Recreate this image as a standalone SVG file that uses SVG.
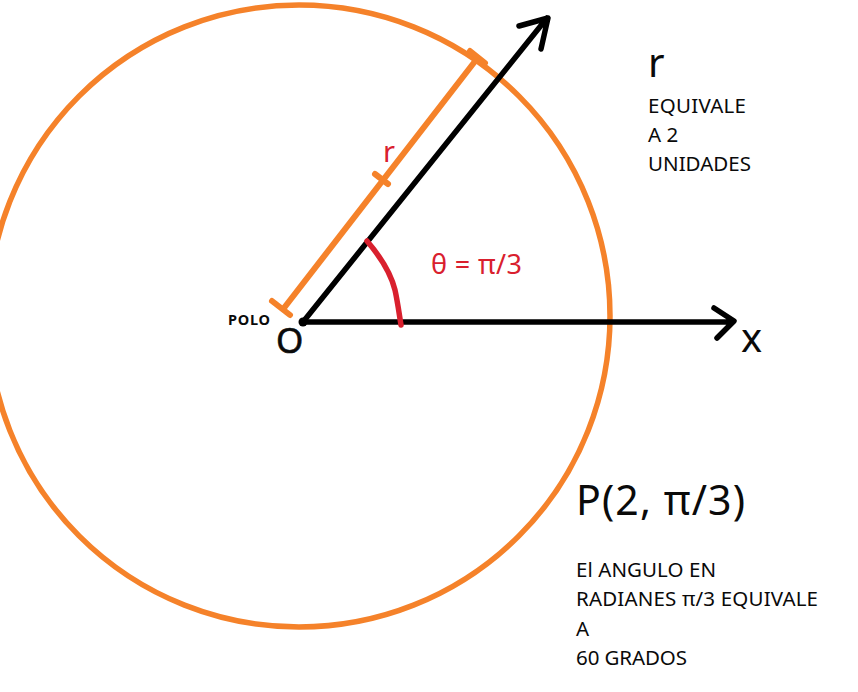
<svg xmlns="http://www.w3.org/2000/svg" width="858" height="692" viewBox="0 0 858 692">
<style>
.t{font-family:"Noto Sans","Open Sans","Liberation Sans",sans-serif;fill:#0a0a0a}
.s{font-size:20.5px}
.red{fill:#d9202e}
.o{fill:none;stroke:#f5822a;stroke-linecap:round}
.k{fill:none;stroke:#000;stroke-width:5.5;stroke-linecap:round;stroke-linejoin:round}
</style>
<rect width="858" height="692" fill="#fff"/>
<g id="connectors">
<circle id="circle" class="o" cx="299" cy="316" r="311" stroke-width="5.5"/>
<path id="axis-x" class="k" d="M303 322H733M714 308L734 321L717 338"/>
<path id="axis-r" class="k" d="M303 322L547 18M519 26L548 18L541 49"/>
<path id="radius" class="o" stroke-width="6" d="M284 308L476 60M272 301L290 315M470 51L485 63M375 174L388 184"/>
<path id="angle" fill="none" stroke="#d9202e" stroke-width="5.5" stroke-linecap="round" d="M367 241C385 262 392 278 395 290C398 304 399 313 401 325"/>
</g>
<g id="polo"><circle cx="303" cy="322" r="4.5"/><text class="t" x="228" y="325" font-size="14.5" font-weight="700" textLength="42">POLO</text><text class="t" x="276" y="353" font-size="35" stroke="#0a0a0a" stroke-width="0.6">O</text></g>
<g id="label-x"><text class="t" x="741" y="352" font-size="40">x</text></g>
<g id="label-r-red"><text class="t red" x="383" y="162" font-size="29">r</text></g>
<g id="label-theta"><text class="t red" x="431" y="274" font-size="27" textLength="91">θ = π/3</text></g>
<g id="note-r">
<text class="t" x="648" y="77" font-size="40">r</text>
<text class="t s" x="648" y="113" textLength="98">EQUIVALE</text>
<text class="t s" x="648" y="142">A 2</text>
<text class="t s" x="648" y="171" textLength="103">UNIDADES</text>
</g>
<g id="note-p">
<text class="t" x="576" y="515" font-size="41" textLength="169">P(2, π/3)</text>
<text class="t s" x="576" y="577" textLength="140">El ANGULO EN</text>
<text class="t s" x="576" y="606" textLength="242">RADIANES π/3 EQUIVALE</text>
<text class="t s" x="576" y="636">A</text>
<text class="t s" x="576" y="665" textLength="111">60 GRADOS</text>
</g>
</svg>
